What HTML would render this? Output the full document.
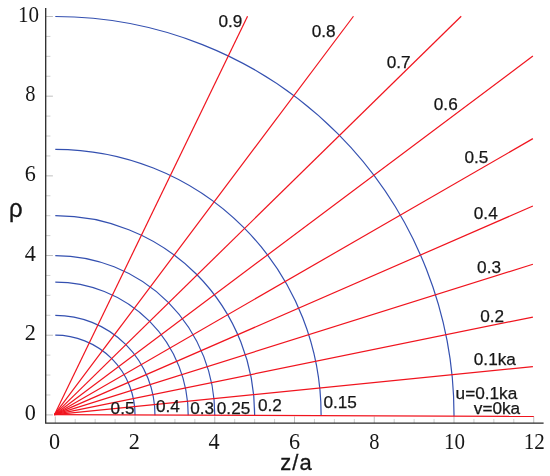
<!DOCTYPE html><html><head><meta charset="utf-8"><title>u v coordinates</title><style>html,body{margin:0;padding:0;background:#fff}svg{display:block}text{font-family:"Liberation Sans",sans-serif;fill:#161616}.s{font-family:"Liberation Serif",serif}</style></head><body>
<svg width="550" height="476" viewBox="0 0 550 476">
<rect width="550" height="476" fill="#fff"/>
<path d="M75.23 423.1V419M95.17 423.1V419M115.10 423.1V419M154.97 423.1V419M174.91 423.1V419M194.84 423.1V419M234.71 423.1V419M254.65 423.1V419M274.58 423.1V419M314.45 423.1V419M334.39 423.1V419M354.32 423.1V419M394.19 423.1V419M414.13 423.1V419M434.06 423.1V419M473.94 423.1V419M493.87 423.1V419M513.80 423.1V419M45.8 394.98H50.4M45.8 375.06H50.4M45.8 355.14H50.4M45.8 315.30H50.4M45.8 295.38H50.4M45.8 275.46H50.4M45.8 235.62H50.4M45.8 215.70H50.4M45.8 195.78H50.4M45.8 155.94H50.4M45.8 136.02H50.4M45.8 116.10H50.4M45.8 76.26H50.4M45.8 56.34H50.4M45.8 36.42H50.4" stroke="#bbb" stroke-width="0.7" fill="none"/>
<path d="M55.30 423.1V416.5M135.04 423.1V416.5M214.78 423.1V416.5M294.52 423.1V416.5M374.26 423.1V416.5M454.00 423.1V416.5M533.74 423.1V416.5M45.8 414.90H52.9M45.8 335.22H52.9M45.8 255.54H52.9M45.8 175.86H52.9M45.8 96.18H52.9M45.8 16.50H52.9" stroke="#a4a4a4" stroke-width="0.7" fill="none"/>
<path d="M55.30 16.50A398.70 398.40 0 0 1 454.00 416.32" stroke="#3450b0" stroke-width="1.2" fill="none"/>
<path d="M55.30 149.30A265.80 265.60 0 0 1 321.10 415.84" stroke="#3450b0" stroke-width="1.2" fill="none"/>
<path d="M55.30 215.70A199.35 199.20 0 0 1 254.65 415.61" stroke="#3450b0" stroke-width="1.2" fill="none"/>
<path d="M55.30 255.54A159.48 159.36 0 0 1 214.78 415.47" stroke="#3450b0" stroke-width="1.2" fill="none"/>
<path d="M55.30 282.10A132.90 132.80 0 0 1 188.20 415.37" stroke="#3450b0" stroke-width="1.2" fill="none"/>
<path d="M55.30 315.30A99.67 99.60 0 0 1 154.97 415.25" stroke="#3450b0" stroke-width="1.2" fill="none"/>
<path d="M55.30 335.22A79.74 79.68 0 0 1 135.04 415.18" stroke="#3450b0" stroke-width="1.2" fill="none"/>
<path d="M54.45 414.65L533.80 416.40" stroke="#f0141e" stroke-width="1.2" fill="none"/>
<path d="M54.45 414.65L532.89 366.60" stroke="#f0141e" stroke-width="1.2" fill="none"/>
<path d="M54.45 414.65L532.89 317.06" stroke="#f0141e" stroke-width="1.2" fill="none"/>
<path d="M54.45 414.65L532.89 264.30" stroke="#f0141e" stroke-width="1.2" fill="none"/>
<path d="M54.45 414.65L532.89 206.00" stroke="#f0141e" stroke-width="1.2" fill="none"/>
<path d="M54.45 414.65L532.89 138.63" stroke="#f0141e" stroke-width="1.2" fill="none"/>
<path d="M54.45 414.65L532.89 56.09" stroke="#f0141e" stroke-width="1.2" fill="none"/>
<path d="M54.45 414.65L461.21 16.25" stroke="#f0141e" stroke-width="1.2" fill="none"/>
<path d="M54.45 414.65L353.47 16.25" stroke="#f0141e" stroke-width="1.2" fill="none"/>
<path d="M54.45 414.65L247.55 16.25" stroke="#f0141e" stroke-width="1.2" fill="none"/>
<path d="M45.7 7.9V423.1H543.6" stroke="#2a2a2a" stroke-width="1.3" fill="none"/>
<text class="s" transform="translate(54.5 449) scale(1 1)" font-size="22.2" text-anchor="middle">0</text>
<text class="s" transform="translate(134.2 449) scale(1 1)" font-size="22.2" text-anchor="middle">2</text>
<text class="s" transform="translate(214.0 449) scale(1 1)" font-size="22.2" text-anchor="middle">4</text>
<text class="s" transform="translate(294.5 449) scale(1 1)" font-size="22.2" text-anchor="middle">6</text>
<text class="s" transform="translate(374.3 449) scale(0.92 1)" font-size="22.2" text-anchor="middle">8</text>
<text class="s" transform="translate(454.6 449) scale(0.95 1)" font-size="22.2" text-anchor="middle">10</text>
<text class="s" transform="translate(534.3 449) scale(0.95 1)" font-size="22.2" text-anchor="middle">12</text>
<text class="s" transform="translate(30.3 419.9) scale(1 1)" font-size="22.2" text-anchor="middle">0</text>
<text class="s" transform="translate(30.3 340.2) scale(1 1)" font-size="22.2" text-anchor="middle">2</text>
<text class="s" transform="translate(30.3 260.5) scale(1 1)" font-size="22.2" text-anchor="middle">4</text>
<text class="s" transform="translate(30.3 180.9) scale(1 1)" font-size="22.2" text-anchor="middle">6</text>
<text class="s" transform="translate(30.3 101.2) scale(0.92 1)" font-size="22.2" text-anchor="middle">8</text>
<text class="s" transform="translate(28.6 21.5) scale(0.95 1)" font-size="22.2" text-anchor="middle">10</text>
<text transform="translate(9 216.6) scale(1 1.05)" font-size="24" stroke="#161616" stroke-width="0.3">ρ</text>
<text x="280.3" y="469.6" font-size="22" letter-spacing="1" stroke="#161616" stroke-width="0.3">z/a</text>
<text x="218.5" y="27.2" font-size="17.2" stroke="#161616" stroke-width="0.25">0.9</text>
<text x="311.7" y="36.9" font-size="17.2" stroke="#161616" stroke-width="0.25">0.8</text>
<text x="386.7" y="68.4" font-size="17.2" stroke="#161616" stroke-width="0.25">0.7</text>
<text x="433.8" y="109.5" font-size="17.2" stroke="#161616" stroke-width="0.25">0.6</text>
<text x="464.4" y="163.1" font-size="17.2" stroke="#161616" stroke-width="0.25">0.5</text>
<text x="473.8" y="219.4" font-size="17.2" stroke="#161616" stroke-width="0.25">0.4</text>
<text x="477.1" y="272.6" font-size="17.2" stroke="#161616" stroke-width="0.25">0.3</text>
<text x="480.2" y="321.9" font-size="17.2" stroke="#161616" stroke-width="0.25">0.2</text>
<text x="473.8" y="364.9" font-size="17.2" stroke="#161616" stroke-width="0.25">0.1ka</text>
<text x="455.6" y="398.7" font-size="17.2" stroke="#161616" stroke-width="0.25">u=0.1ka</text>
<text x="473.8" y="413.5" font-size="17.2" stroke="#161616" stroke-width="0.25">v=0ka</text>
<text x="110.6" y="413.6" font-size="17.2" stroke="#161616" stroke-width="0.25">0.5</text>
<text x="155.9" y="412.3" font-size="17.2" stroke="#161616" stroke-width="0.25">0.4</text>
<text x="190.2" y="413.6" font-size="17.2" stroke="#161616" stroke-width="0.25">0.3</text>
<text x="216.8" y="413.6" font-size="17.2" stroke="#161616" stroke-width="0.25">0.25</text>
<text x="258.0" y="411.3" font-size="17.2" stroke="#161616" stroke-width="0.25">0.2</text>
<text x="323.4" y="407.5" font-size="17.2" stroke="#161616" stroke-width="0.25">0.15</text>
</svg></body></html>
